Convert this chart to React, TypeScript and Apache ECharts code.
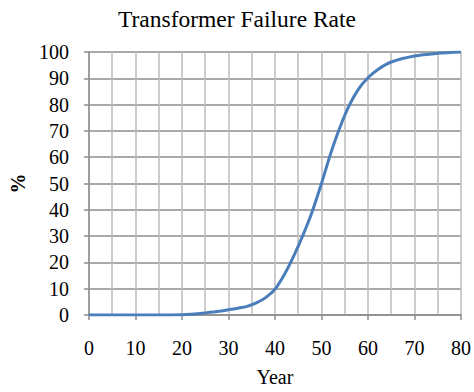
import React, { useEffect, useRef } from "react";
import * as echarts from "echarts";

const years = [0, 10, 15, 20, 22, 25, 28, 30, 32, 34, 36, 38, 40, 42, 44, 46, 48, 50, 52, 54, 56, 58, 60, 62, 65, 70, 75, 80];
const failurePct = [0, 0, 0, 0.1, 0.3, 0.8, 1.4, 2, 2.6, 3.3, 4.6, 6.6, 9.8, 15.3, 22.3, 30.3, 39.3, 50, 61.5, 71.5, 79.8, 86, 90.2, 93.2, 96.2, 98.5, 99.5, 100];

const titleText = "Transformer Failure Rate";
const xName = "Year";
const yName = "%";

const FONT = "'Times New Roman', 'Liberation Serif', serif";

export default function App() {
  const ref = useRef<HTMLDivElement>(null);
  useEffect(() => {
    if (!ref.current) return;
    const chart = echarts.init(ref.current, null, { renderer: "svg" });
    chart.setOption({
      animation: false,
      backgroundColor: "#ffffff",
      textStyle: { fontFamily: FONT },
      title: {
        text: titleText,
        left: "center",
        top: 2,
        textStyle: { fontFamily: FONT, fontSize: 23.5, fontWeight: "normal", color: "#000" },
      },
      grid: { left: 83, right: 12, top: 52, bottom: 75, containLabel: false },
      xAxis: {
        type: "value",
        min: 0,
        max: 80,
        interval: 10,
        name: xName,
        nameLocation: "middle",
        nameGap: 52,
        nameTextStyle: { fontFamily: FONT, fontSize: 20, color: "#000" },
        axisLine: { show: true, lineStyle: { color: "#8c8c8c", width: 1.5 } },
        axisTick: { show: true, length: 5, lineStyle: { color: "#8c8c8c", width: 1.5 } },
        axisLabel: { fontFamily: FONT, fontSize: 20, color: "#000", margin: 23 },
        splitLine: { show: true, lineStyle: { color: "#bdbdbd", width: 1.5 } },
        minorTick: { show: false, splitNumber: 2 },
        minorSplitLine: { show: true, lineStyle: { color: "#bdbdbd", width: 1.5 } },
      },
      yAxis: {
        type: "value",
        min: 0,
        max: 100,
        interval: 10,
        name: yName,
        nameLocation: "middle",
        nameGap: 46,
        nameRotate: 90,
        nameTextStyle: { fontFamily: FONT, fontSize: 20, fontWeight: "bold", color: "#000" },
        axisLine: { show: true, lineStyle: { color: "#8c8c8c", width: 1.5 } },
        axisTick: { show: true, length: 5, lineStyle: { color: "#8c8c8c", width: 1.5 } },
        axisLabel: { fontFamily: FONT, fontSize: 20, color: "#000", margin: 20 },
        splitLine: { show: true, lineStyle: { color: "#8c8c8c", width: 1.5 } },
      },
      series: [
        {
          type: "line",
          data: years.map((y, i) => [y, failurePct[i]]),
          smooth: 0.3,
          showSymbol: false,
          symbol: "none",
          lineStyle: { color: "#4a7ebb", width: 3 },
        },
      ],
    });
    return () => chart.dispose();
  }, []);
  return <div ref={ref} style={{ width: 474, height: 392, position: "absolute", left: 0, top: 0 }} />;
}
